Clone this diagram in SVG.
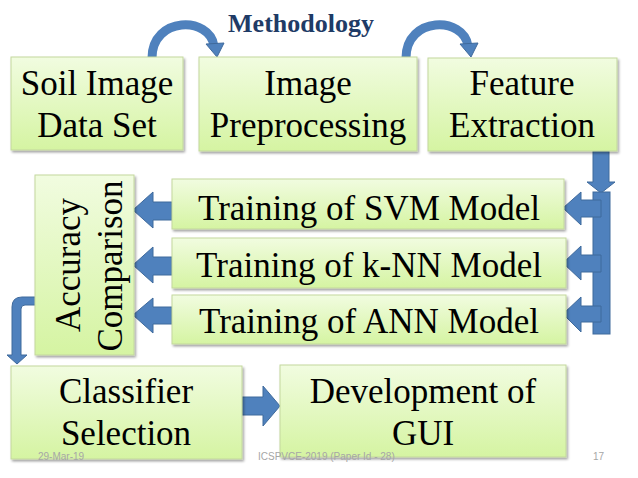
<svg xmlns="http://www.w3.org/2000/svg" width="638" height="478" viewBox="0 0 638 478">
<defs>
<linearGradient id="g" x1="0" y1="0" x2="0" y2="1">
<stop offset="0" stop-color="#f1fce0"/>
<stop offset="1" stop-color="#d5f4a2"/>
</linearGradient>
<filter id="sh" x="-5%" y="-5%" width="115%" height="120%">
<feDropShadow dx="1.5" dy="2" stdDeviation="1.2" flood-color="#000" flood-opacity="0.35"/>
</filter>
<style>
.box{fill:url(#g);stroke:#c3d79e;stroke-width:1;filter:url(#sh)}
.t{font-family:"Liberation Serif","Times New Roman",serif;font-size:35px;fill:#000;text-anchor:middle}
.ar{fill:#4f81bd;stroke:#3f6a9c;stroke-width:1}
.cv{fill:none;stroke:#4f81bd;stroke-width:9}
.ft{font-family:"Liberation Sans",Arial,sans-serif;font-size:10px;fill:#a6a6a6}
</style>
</defs>
<rect width="638" height="478" fill="#fff"/>
<text x="301" y="32" font-family="Liberation Serif,'Times New Roman',serif" font-weight="bold" font-size="26" fill="#1f3b66" text-anchor="middle">Methodology</text>

<g id="connectors">
<path class="cv" d="M152,58 C152,16 210,16 214,46"/>
<polygon class="ar" points="206,44 224,43 217,57"/>
<g transform="translate(254,0)">
<path class="cv" d="M152,58 C152,16 210,16 214,46"/>
<polygon class="ar" points="206,44 224,43 217,57"/>
</g>
<polygon class="ar" points="593,151 609,151 609,182 615,182 601,193 587,182 593,182"/>
<rect class="ar" x="593" y="192" width="17" height="142"/>
<polygon class="ar" points="601,200 581,200 581,192 563,208 581,225 581,217 601,217"/>
<polygon class="ar" points="601,255 581,255 581,246 563,263 581,280 581,272 601,272"/>
<polygon class="ar" points="601,306 581,306 581,297 563,314 581,332 581,322 601,322"/>
<polygon class="ar" points="172,202 153,202 153,192 133,210 153,228 153,220 172,220"/>
<polygon class="ar" points="172,257 153,257 153,247 133,265 153,283 153,275 172,275"/>
<polygon class="ar" points="172,307 153,307 153,298 133,315 153,333 153,324 172,324"/>
<path class="ar" d="M43,297 L22,297 Q12,297 12,307 L12,355 L7,355 L17,364 L27,355 L21,355 L21,309 Q21,305 25,305 L43,305 Z"/>
<polygon class="ar" points="242,397 263,397 263,386 280,406 263,426 263,415 242,415"/>
</g>

<g id="soil">
<rect class="box" x="11" y="57" width="172" height="93"/>
<text class="t" x="97" y="95">Soil Image</text>
<text class="t" x="97" y="137">Data Set</text>
</g>
<g id="preprocessing">
<rect class="box" x="199" y="57" width="218" height="94"/>
<text class="t" x="308" y="95">Image</text>
<text class="t" x="308" y="137">Preprocessing</text>
</g>
<g id="feature">
<rect class="box" x="428" y="58" width="189" height="93"/>
<text class="t" x="522" y="95">Feature</text>
<text class="t" x="522" y="137">Extraction</text>
</g>
<g id="accuracy">
<rect class="box" x="35" y="175" width="99" height="180"/>
<text class="t" transform="translate(80,265) rotate(-90)">Accuracy</text>
<text class="t" transform="translate(122,266) rotate(-90)">Comparison</text>
</g>
<g id="svm">
<rect class="box" x="172" y="179" width="392" height="50"/>
<text class="t" x="369" y="220">Training of SVM Model</text>
</g>
<g id="knn">
<rect class="box" x="172" y="238" width="394" height="50"/>
<text class="t" x="369" y="277">Training of k-NN Model</text>
</g>
<g id="ann">
<rect class="box" x="172" y="295" width="394" height="49"/>
<text class="t" x="369" y="333">Training of ANN Model</text>
</g>
<g id="classifier">
<rect class="box" x="11" y="366" width="231" height="93"/>
<text class="t" x="126" y="403">Classifier</text>
<text class="t" x="126" y="445">Selection</text>
</g>
<g id="gui">
<rect class="box" x="280" y="365" width="286" height="92"/>
<text class="t" x="423" y="403">Development of</text>
<text class="t" x="423" y="445">GUI</text>
</g>
<text class="ft" x="38" y="460">29-Mar-19</text>
<text class="ft" x="258" y="460">ICSPVCE-2019 (Paper Id - 28)</text>
<text class="ft" x="593" y="460">17</text>
</svg>
